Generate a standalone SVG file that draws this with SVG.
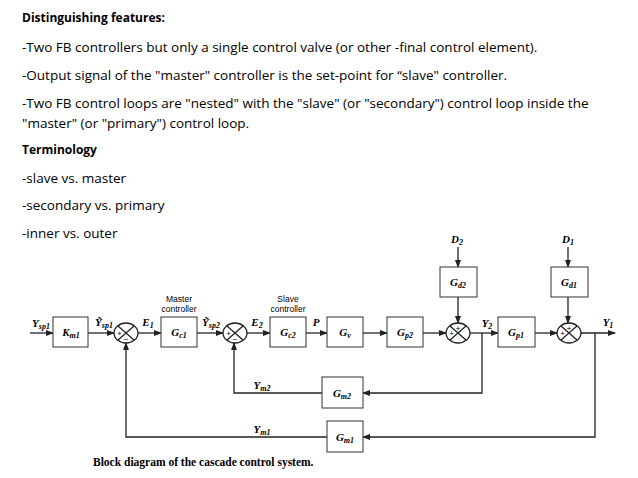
<svg xmlns="http://www.w3.org/2000/svg" width="638" height="478" viewBox="0 0 638 478">
<style>
.t{font-family:"Open Sans","Liberation Sans",sans-serif;font-size:13.5px;fill:#000}
.b{font-weight:bold;font-size:12px}
.m{font-family:"Liberation Serif",serif;font-style:italic;font-weight:bold;font-size:11px;text-anchor:middle}
.m tspan{font-size:8px}
.s{font-family:"Liberation Sans",sans-serif;font-size:8.5px;text-anchor:middle}
.p{font-family:"Liberation Sans",sans-serif;font-size:8px;text-anchor:middle}
.bx{fill:#fff;stroke:#333;stroke-width:1}
.ln{fill:none;stroke:#222;stroke-width:1.3}
</style>
<defs><marker id="a" markerWidth="8" markerHeight="6" refX="7" refY="3" orient="auto" markerUnits="userSpaceOnUse"><path d="M0,0L8,3L0,6z" fill="#222"/></marker></defs>
<rect width="638" height="478" fill="#fff"/>
<g id="text">
<text class="t b" x="22" y="22">Distinguishing features:</text>
<text class="t" x="22" y="52">-Two FB controllers but only a single control valve (or other -final control element).</text>
<text class="t" x="22" y="80">-Output signal of the "master" controller is the set-point for “slave" controller.</text>
<text class="t" x="22" y="108">-Two FB control loops are "nested" with the "slave" (or "secondary") control loop inside the</text>
<text class="t" x="22" y="128">"master" (or "primary") control loop.</text>
<text class="t b" x="22" y="154">Terminology</text>
<text class="t" x="22" y="183">-slave vs. master</text>
<text class="t" x="22" y="210">-secondary vs. primary</text>
<text class="t" x="22" y="238">-inner vs. outer</text>
</g>
<g id="connectors">
<path class="ln" d="M30,333H53" marker-end="url(#a)"/>
<path class="ln" d="M88,333H114" marker-end="url(#a)"/>
<path class="ln" d="M138,333H161" marker-end="url(#a)"/>
<path class="ln" d="M197,333H223" marker-end="url(#a)"/>
<path class="ln" d="M247,333H270" marker-end="url(#a)"/>
<path class="ln" d="M306,333H327" marker-end="url(#a)"/>
<path class="ln" d="M363,333H387" marker-end="url(#a)"/>
<path class="ln" d="M423,333H446" marker-end="url(#a)"/>
<path class="ln" d="M470,333H498" marker-end="url(#a)"/>
<path class="ln" d="M535,333H557" marker-end="url(#a)"/>
<path class="ln" d="M581,333H615" marker-end="url(#a)"/>
<path class="ln" d="M458,247V267" marker-end="url(#a)"/>
<path class="ln" d="M458,297V323" marker-end="url(#a)"/>
<path class="ln" d="M568,247V267" marker-end="url(#a)"/>
<path class="ln" d="M568,297V323" marker-end="url(#a)"/>
<path class="ln" d="M482,333V393H363" marker-end="url(#a)"/>
<path class="ln" d="M595,333V437H363" marker-end="url(#a)"/>
<path class="ln" d="M322,393H234V343" marker-end="url(#a)"/>
<path class="ln" d="M327,437H126V343" marker-end="url(#a)"/>
</g>
<g id="Km1"><rect class="bx" x="53" y="317" width="35" height="30"/><text class="m" x="71" y="336">K<tspan dy="2">m1</tspan></text></g>
<g id="Gc1"><rect class="bx" x="161" y="317" width="36" height="30"/><text class="m" x="179" y="336">G<tspan dy="2">c1</tspan></text></g>
<g id="Gc2"><rect class="bx" x="270" y="317" width="36" height="30"/><text class="m" x="288" y="336">G<tspan dy="2">c2</tspan></text></g>
<g id="Gv"><rect class="bx" x="327" y="317" width="36" height="30"/><text class="m" x="345" y="336">G<tspan dy="2">v</tspan></text></g>
<g id="Gp2"><rect class="bx" x="387" y="317" width="36" height="30"/><text class="m" x="405" y="336">G<tspan dy="2">p2</tspan></text></g>
<g id="Gp1"><rect class="bx" x="498" y="317" width="37" height="30"/><text class="m" x="516" y="336">G<tspan dy="2">p1</tspan></text></g>
<g id="Gd2"><rect class="bx" x="440" y="267" width="37" height="30"/><text class="m" x="458" y="286">G<tspan dy="2">d2</tspan></text></g>
<g id="Gd1"><rect class="bx" x="551" y="267" width="37" height="30"/><text class="m" x="569" y="286">G<tspan dy="2">d1</tspan></text></g>
<g id="Gm2"><rect class="bx" x="322" y="377" width="41" height="31"/><text class="m" x="342" y="397">G<tspan dy="2">m2</tspan></text></g>
<g id="Gm1"><rect class="bx" x="327" y="421" width="36" height="31"/><text class="m" x="345" y="441">G<tspan dy="2">m1</tspan></text></g>
<g id="sum1"><ellipse class="ln" cx="126" cy="333" rx="12" ry="10" fill="#fff"/><path class="ln" d="M118,326L134,340M134,326L118,340"/><text class="p" x="119.5" y="336">+</text><text class="p" x="126" y="342">−</text></g>
<g id="sum2"><ellipse class="ln" cx="235" cy="333" rx="12" ry="10" fill="#fff"/><path class="ln" d="M227,326L243,340M243,326L227,340"/><text class="p" x="228.5" y="336">+</text><text class="p" x="235" y="342">−</text></g>
<g id="sum3"><ellipse class="ln" cx="458" cy="333" rx="12" ry="10" fill="#fff"/><path class="ln" d="M450,326L466,340M466,326L450,340"/><text class="p" x="451.5" y="336">+</text><text class="p" x="458" y="331">+</text></g>
<g id="sum4"><ellipse class="ln" cx="569" cy="333" rx="12" ry="10" fill="#fff"/><path class="ln" d="M561,326L577,340M577,326L561,340"/><text class="p" x="562.5" y="336">+</text><text class="p" x="569" y="331">+</text></g>
<g id="labels">
<text class="m" x="41" y="327">Y<tspan dy="2">sp1</tspan></text>
<text class="m" x="104" y="326">Ỹ<tspan dy="2">sp1</tspan></text>
<text class="m" x="148" y="326">E<tspan dy="2">1</tspan></text>
<text class="m" x="211" y="326">Ỹ<tspan dy="2">sp2</tspan></text>
<text class="m" x="257" y="326">E<tspan dy="2">2</tspan></text>
<text class="m" x="316" y="326">P</text>
<text class="m" x="487" y="327">Y<tspan dy="2">2</tspan></text>
<text class="m" x="608" y="326">Y<tspan dy="2">1</tspan></text>
<text class="m" x="457" y="243">D<tspan dy="2">2</tspan></text>
<text class="m" x="568" y="243">D<tspan dy="2">1</tspan></text>
<text class="m" x="262" y="389">Y<tspan dy="2">m2</tspan></text>
<text class="m" x="262" y="433">Y<tspan dy="2">m1</tspan></text>
<text class="s" x="179" y="302">Master</text><text class="s" x="179" y="312">controller</text>
<text class="s" x="288" y="302">Slave</text><text class="s" x="288" y="312">controller</text>
<text x="93" y="466" font-family="Liberation Serif,serif" font-weight="bold" font-size="11.5">Block diagram of the cascade control system.</text>
</g>
</svg>
